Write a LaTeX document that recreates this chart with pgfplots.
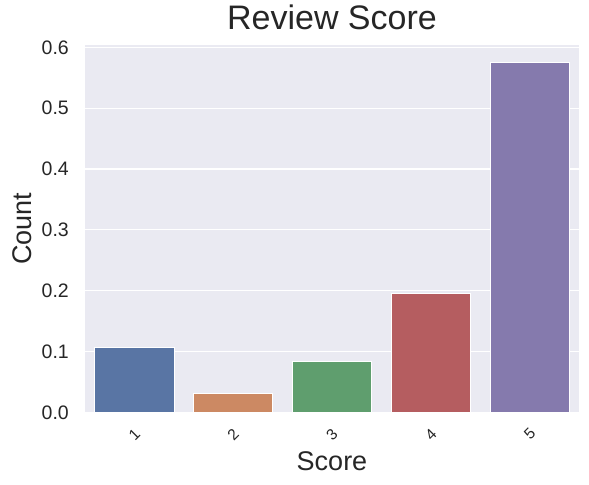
\documentclass[border=0pt]{standalone}
\usepackage{fontspec}
\setmainfont{Liberation Sans}
\usepackage{pgfplots}
\pgfplotsset{compat=1.18}

\definecolor{sbblue}{HTML}{5975A4}
\definecolor{sborange}{HTML}{CC8963}
\definecolor{sbgreen}{HTML}{5F9E6E}
\definecolor{sbred}{HTML}{B55D60}
\definecolor{sbpurple}{HTML}{857AAD}
\definecolor{sbbg}{HTML}{EAEAF2}
\definecolor{txt}{HTML}{262626}

\begin{document}
\begin{tikzpicture}
  \path[use as bounding box] (-85bp,-72.7bp) rectangle (504bp,412.3bp);
  \begin{axis}[
    scale only axis,
    width=494bp, height=367.3bp,
    xmin=-0.5, xmax=4.5,
    ymin=0, ymax=0.604,
    axis background/.style={fill=sbbg},
    axis line style={draw=none},
    major tick length=0pt,
    ymajorgrids,
    grid style={white, line width=1.2bp},
    xtick={0,1,2,3,4},
    xticklabels={1,2,3,4,5},
    ytick={0,0.1,0.2,0.3,0.4,0.5,0.6},
    yticklabels={0.0,0.1,0.2,0.3,0.4,0.5,0.6},
    % rotated 45: shifts are in the rotated frame, this gives (0,-22bp)
    xticklabel style={font=\fontsize{15.5bp}{17bp}\selectfont, text=txt,
                      rotate=45, anchor=center, xshift=-15.5bp, yshift=-15.5bp},
    yticklabel style={font=\fontsize{19.5bp}{22bp}\selectfont, text=txt,
                      anchor=east, inner sep=0pt, xshift=-16bp},
    ybar,
    bar width=0.8,
    title={Review Score},
    title style={font=\fontsize{34bp}{38bp}\selectfont, text=txt,
                 at={(axis description cs:0.5,1)}, anchor=base, yshift=10bp},
    xlabel={Score},
    xlabel style={font=\fontsize{27bp}{30bp}\selectfont, text=txt,
                  at={(axis description cs:0.5,0)}, anchor=base, yshift=-57.7bp},
    ylabel={Count},
    % rotated 90: yshift moves it to the left
    ylabel style={font=\fontsize{27bp}{30bp}\selectfont, text=txt,
                  at={(axis description cs:0,0.5)}, anchor=base, yshift=53bp},
  ]
    \addplot[fill=sbblue, draw=white, line width=0.8bp, bar shift=0pt] coordinates {(0,0.107)};
    \addplot[fill=sborange, draw=white, line width=0.8bp, bar shift=0pt] coordinates {(1,0.031)};
    \addplot[fill=sbgreen, draw=white, line width=0.8bp, bar shift=0pt] coordinates {(2,0.083)};
    \addplot[fill=sbred, draw=white, line width=0.8bp, bar shift=0pt] coordinates {(3,0.195)};
    \addplot[fill=sbpurple, draw=white, line width=0.8bp, bar shift=0pt] coordinates {(4,0.576)};
  \end{axis}
\end{tikzpicture}
\end{document}
